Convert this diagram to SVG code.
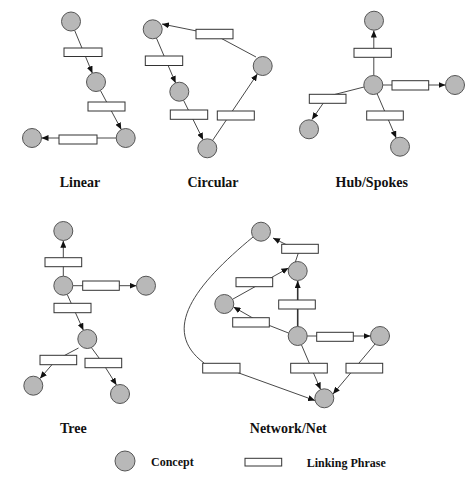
<svg xmlns="http://www.w3.org/2000/svg" width="474" height="484" viewBox="0 0 474 484">
<style>
.c{fill:#b8b8b8;stroke:#555;stroke-width:1}
.r{fill:#fff;stroke:#333;stroke-width:1}
.e{fill:none;stroke:#333;stroke-width:0.9}
.a{marker-end:url(#ah)}
.t{font-family:"Liberation Serif","Times New Roman",serif;font-weight:bold;fill:#111}
.lb{font-size:14px;text-anchor:middle}
.lg{font-size:12px}
</style>
<defs>
<marker id="ah" markerUnits="userSpaceOnUse" markerWidth="8" markerHeight="6" refX="7" refY="3" orient="auto">
<path d="M0,0 L7,3 L0,6 z" fill="#111"/>
</marker>
</defs>
<rect width="474" height="484" fill="#fff"/>
<g id="connectors">
<!-- Linear -->
<line class="e a" x1="74.6" y1="30.3" x2="92.4" y2="73.2"/>
<line class="e a" x1="100.4" y1="90.4" x2="121.3" y2="129.6"/>
<line class="e a" x1="116" y1="138" x2="41.5" y2="138"/>
<!-- Circular -->
<line class="e a" x1="156.4" y1="38" x2="175.6" y2="83"/>
<line class="e a" x1="183.5" y1="100.2" x2="203.1" y2="139.8"/>
<line class="e a" x1="212.6" y1="140.4" x2="257.4" y2="73.9"/>
<polyline class="e a" points="256,57 214,34.5 162,24"/>
<!-- Hub -->
<line class="e a" x1="373.8" y1="75.5" x2="373.8" y2="30.5"/>
<line class="e a" x1="383" y1="85" x2="445.5" y2="85"/>
<polyline class="e a" points="364,87 328,96.2 312,119.5"/>
<line class="e a" x1="377.1" y1="93.7" x2="396.2" y2="138"/>
<!-- Tree -->
<line class="e a" x1="63.3" y1="276" x2="63.3" y2="240.7"/>
<line class="e a" x1="72.8" y1="285.7" x2="136.5" y2="285.7"/>
<line class="e a" x1="67.2" y1="294.4" x2="83.4" y2="330.3"/>
<polyline class="e a" points="78.5,348 56,360 40,378.5"/>
<polyline class="e a" points="91.7,348 102,362 116.5,385"/>
<!-- Network -->
<polyline class="e a" points="295,263 299,251 273,238"/>
<line class="e a" x1="233" y1="299" x2="288.5" y2="268"/>
<line class="e a" x1="297.7" y1="326.5" x2="297.7" y2="281" style="stroke-width:1.6"/>
<polyline class="e a" points="288.5,333 258,321 233.5,307"/>
<line class="e a" x1="307.2" y1="336" x2="370.5" y2="336"/>
<line class="e a" x1="301.4" y1="344.7" x2="320.6" y2="389.6"/>
<line class="e a" x1="375" y1="344" x2="333" y2="394"/>
<path class="e" d="M253,237 C195,285 160,330 204,363"/>
<line class="e a" x1="225" y1="368" x2="315" y2="400.5"/>
</g>
<g id="linear">
<circle class="c" cx="71" cy="21.5" r="9.5"/>
<rect class="r" x="64" y="48" width="38" height="8.5"/>
<circle class="c" cx="96" cy="82" r="9.5"/>
<rect class="r" x="88" y="102" width="37" height="9"/>
<circle class="c" cx="125.7" cy="138" r="9.5"/>
<rect class="r" x="59" y="135" width="38" height="9"/>
<circle class="c" cx="32" cy="138" r="9.5"/>
<text class="t lb" x="80" y="187">Linear</text>
</g>
<g id="circular">
<circle class="c" cx="152.7" cy="29.3" r="9.5"/>
<rect class="r" x="196" y="29.3" width="37" height="9.5"/>
<circle class="c" cx="262.7" cy="66" r="9.5"/>
<rect class="r" x="145.3" y="56" width="37.4" height="9.5"/>
<circle class="c" cx="179.3" cy="91.7" r="9.5"/>
<rect class="r" x="170.3" y="110" width="37.4" height="9.3"/>
<rect class="r" x="217.3" y="111" width="37" height="9"/>
<circle class="c" cx="207.3" cy="148.3" r="9.5"/>
<text class="t lb" x="213" y="186.5">Circular</text>
</g>
<g id="hub">
<circle class="c" cx="374" cy="20.7" r="9.5"/>
<rect class="r" x="354" y="48.3" width="37.3" height="9"/>
<circle class="c" cx="373.3" cy="85" r="9.5"/>
<rect class="r" x="392" y="80.7" width="36.7" height="9.3"/>
<circle class="c" cx="455" cy="85" r="9.5"/>
<rect class="r" x="309.3" y="94.3" width="36.7" height="9"/>
<circle class="c" cx="309" cy="129.3" r="9.5"/>
<rect class="r" x="366.7" y="111" width="36.6" height="9"/>
<circle class="c" cx="400" cy="146.7" r="9.5"/>
<text class="t lb" x="371.7" y="186.7">Hub/Spokes</text>
</g>
<g id="tree">
<circle class="c" cx="63.3" cy="231" r="9.5"/>
<rect class="r" x="45" y="257.7" width="36.7" height="9"/>
<circle class="c" cx="63.3" cy="285.7" r="9.5"/>
<rect class="r" x="82.7" y="281" width="36.6" height="9.3"/>
<circle class="c" cx="146" cy="285.7" r="9.5"/>
<rect class="r" x="54" y="303.3" width="37" height="9.4"/>
<circle class="c" cx="87.3" cy="339" r="9.5"/>
<rect class="r" x="40" y="355.3" width="36.7" height="9.4"/>
<rect class="r" x="85" y="358.3" width="36.7" height="9.4"/>
<circle class="c" cx="33.3" cy="385.7" r="9.5"/>
<circle class="c" cx="120" cy="394" r="9.5"/>
<text class="t lb" x="73.3" y="433">Tree</text>
</g>
<g id="network">
<circle class="c" cx="261" cy="231.7" r="9.5"/>
<rect class="r" x="281.7" y="244.3" width="36.6" height="9"/>
<circle class="c" cx="297.7" cy="271" r="9.5"/>
<rect class="r" x="236" y="277.7" width="36.7" height="9"/>
<circle class="c" cx="224.3" cy="304" r="9.5"/>
<rect class="r" x="278.7" y="300" width="36.6" height="9"/>
<rect class="r" x="232.7" y="317.7" width="36.6" height="9.3"/>
<circle class="c" cx="297.7" cy="336" r="9.5"/>
<rect class="r" x="316.7" y="332.3" width="36.6" height="9"/>
<circle class="c" cx="380" cy="336" r="9.5"/>
<rect class="r" x="202.7" y="363.3" width="37.3" height="9.7"/>
<rect class="r" x="290.7" y="363.3" width="36.6" height="9.7"/>
<rect class="r" x="346" y="363.3" width="36.7" height="9.7"/>
<circle class="c" cx="324.3" cy="398.3" r="9.5"/>
<text class="t lb" x="288.3" y="432.7">Network/Net</text>
</g>
<g id="legend">
<circle class="c" cx="125" cy="461" r="10"/>
<text class="t lg" x="151" y="466">Concept</text>
<rect class="r" x="245" y="458.3" width="36.7" height="7.7"/>
<text class="t lg" x="306.7" y="467">Linking Phrase</text>
</g>
</svg>
